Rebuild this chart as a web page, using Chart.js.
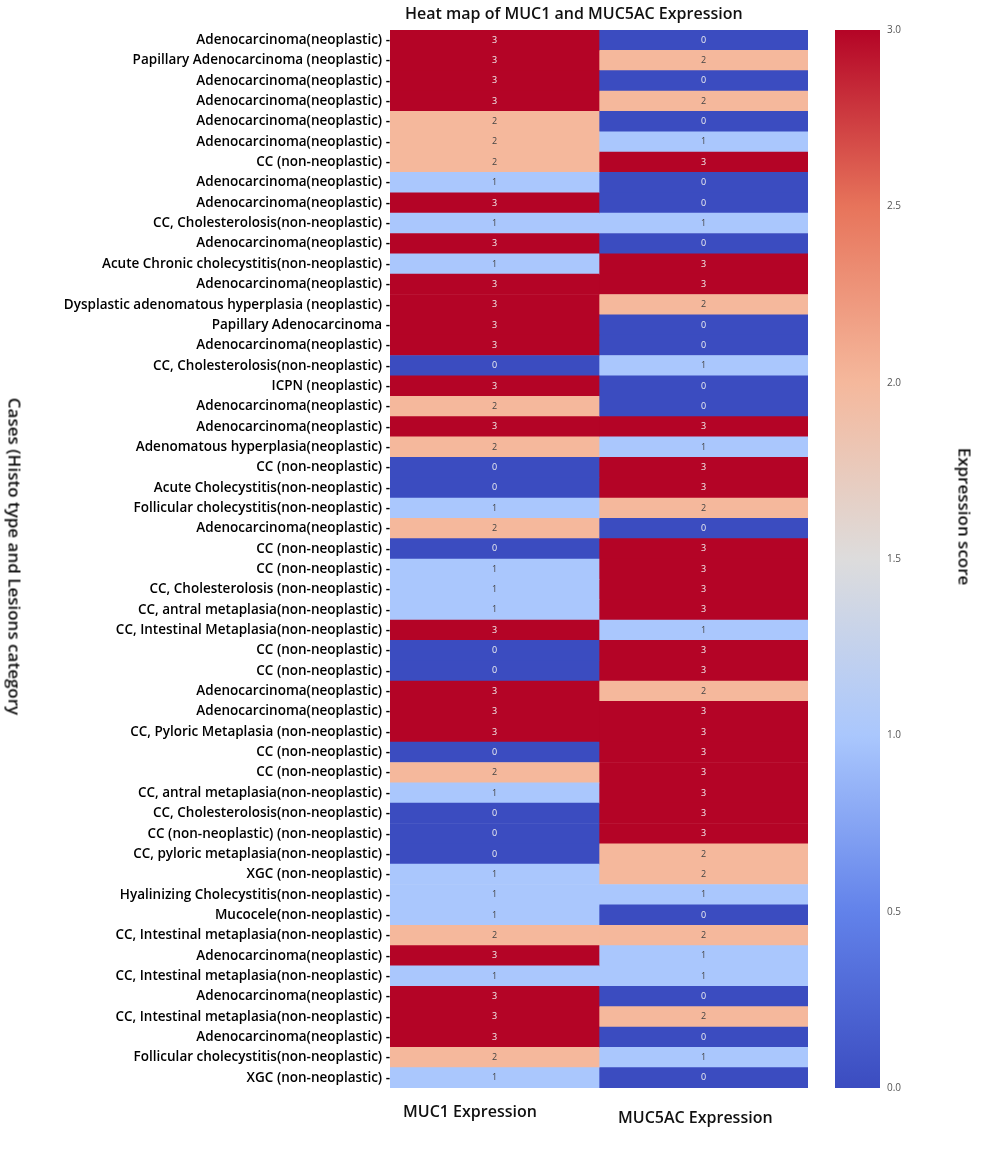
<!DOCTYPE html>
<html>
<head>
<meta charset="utf-8">
<script src="https://cdn.jsdelivr.net/npm/chart.js@4"></script>
<style>
  body { margin: 0; background: #fff; font-family: "Open Sans", sans-serif; }
  #wrap { position: relative; width: 986px; height: 1150px; }
  canvas { position: absolute; top: 0; }
  .txt { position: absolute; color: #111; font-weight: 600; white-space: nowrap; }
</style>
</head>
<body>
<div id="wrap">
  <canvas id="heat" width="986" height="1150" style="left:0"></canvas>
  <canvas id="bar" width="151" height="1150" style="left:835px"></canvas>
  <div class="txt" style="left:405px;top:2px;font-size:16px">Heat map of MUC1 and MUC5AC Expression</div>
  <div class="txt" style="left:403px;top:1100px;font-size:16px">MUC1 Expression</div>
  <div class="txt" style="left:618px;top:1106px;font-size:16px">MUC5AC Expression</div>
  <div class="txt" style="left:-190px;top:545px;font-size:17px;transform:rotate(90deg);width:410px;text-align:center">Cases (Histo type and Lesions category</div>
  <div class="txt" style="left:895px;top:505px;font-size:17px;transform:rotate(90deg);width:140px;text-align:center">Expression score</div>
</div>
<script>
// Row labels, top to bottom
const cases = [
  'Adenocarcinoma(neoplastic)', 'Papillary Adenocarcinoma (neoplastic)', 'Adenocarcinoma(neoplastic)',
  'Adenocarcinoma(neoplastic)', 'Adenocarcinoma(neoplastic)', 'Adenocarcinoma(neoplastic)',
  'CC (non-neoplastic)', 'Adenocarcinoma(neoplastic)', 'Adenocarcinoma(neoplastic)',
  'CC, Cholesterolosis(non-neoplastic)', 'Adenocarcinoma(neoplastic)', 'Acute Chronic cholecystitis(non-neoplastic)',
  'Adenocarcinoma(neoplastic)', 'Dysplastic adenomatous hyperplasia (neoplastic)', 'Papillary Adenocarcinoma',
  'Adenocarcinoma(neoplastic)', 'CC, Cholesterolosis(non-neoplastic)', 'ICPN (neoplastic)',
  'Adenocarcinoma(neoplastic)', 'Adenocarcinoma(neoplastic)', 'Adenomatous hyperplasia(neoplastic)',
  'CC (non-neoplastic)', 'Acute Cholecystitis(non-neoplastic)', 'Follicular cholecystitis(non-neoplastic)',
  'Adenocarcinoma(neoplastic)', 'CC (non-neoplastic)', 'CC (non-neoplastic)',
  'CC, Cholesterolosis (non-neoplastic)', 'CC, antral metaplasia(non-neoplastic)', 'CC, Intestinal Metaplasia(non-neoplastic)',
  'CC (non-neoplastic)', 'CC (non-neoplastic)', 'Adenocarcinoma(neoplastic)',
  'Adenocarcinoma(neoplastic)', 'CC, Pyloric Metaplasia (non-neoplastic)', 'CC (non-neoplastic)',
  'CC (non-neoplastic)', 'CC, antral metaplasia(non-neoplastic)', 'CC, Cholesterolosis(non-neoplastic)',
  'CC (non-neoplastic) (non-neoplastic)', 'CC, pyloric metaplasia(non-neoplastic)', 'XGC (non-neoplastic)',
  'Hyalinizing Cholecystitis(non-neoplastic)', 'Mucocele(non-neoplastic)', 'CC, Intestinal metaplasia(non-neoplastic)',
  'Adenocarcinoma(neoplastic)', 'CC, Intestinal metaplasia(non-neoplastic)', 'Adenocarcinoma(neoplastic)',
  'CC, Intestinal metaplasia(non-neoplastic)', 'Adenocarcinoma(neoplastic)', 'Follicular cholecystitis(non-neoplastic)',
  'XGC (non-neoplastic)'
];
const muc1 = [3,3,3,3,2,2,2,1,3,1,3,1,3,3,3,3,0,3,2,3,2,0,0,1,2,0,1,1,1,3,0,0,3,3,3,0,2,1,0,0,0,1,1,1,2,3,1,3,3,3,2,1];
const muc5ac = [0,2,0,2,0,1,3,0,0,1,0,3,3,2,0,0,1,0,0,3,1,3,3,2,0,3,3,3,3,1,3,3,2,3,3,3,3,3,3,3,2,2,1,0,2,1,1,0,2,0,1,0];
const colorTicks = [0, 0.5, 1, 1.5, 2, 2.5, 3];

// coolwarm-ish colours for scores 0..3
const scoreColors = ['#3b4cc0', '#aac7fd', '#f5b89c', '#b40426'];
const gradStops = [
  [0, '#3b4cc0'], [0.167, '#6282ea'], [0.333, '#aac7fd'], [0.5, '#dddcdc'],
  [0.667, '#f5b89c'], [0.833, '#e7745b'], [1, '#b40426']
];

const idx = cases.map((_, i) => i);

const cellText = {
  id: 'cellText',
  afterDatasetsDraw(chart) {
    const ctx = chart.ctx;
    ctx.save();
    ctx.font = '9px "Open Sans"';
    ctx.textAlign = 'center';
    ctx.textBaseline = 'middle';
    chart.data.datasets.forEach((ds, d) => {
      chart.getDatasetMeta(d).data.forEach((bar, i) => {
        const v = ds.scores[i];
        ctx.fillStyle = (v === 0 || v === 3) ? '#f0f0f0' : '#444';
        const x = (bar.x + bar.base) / 2;
        ctx.fillText(v, x, bar.y);
      });
    });
    ctx.restore();
  }
};

new Chart(document.getElementById('heat'), {
  type: 'bar',
  data: {
    labels: idx,
    datasets: [
      { data: idx.map(() => 1), scores: muc1, backgroundColor: muc1.map(v => scoreColors[v]) },
      { data: idx.map(() => 1), scores: muc5ac, backgroundColor: muc5ac.map(v => scoreColors[v]) }
    ]
  },
  options: {
    indexAxis: 'y',
    responsive: false,
    animation: false,
    layout: { padding: { top: 30, bottom: 62, right: 178, left: 0 } },
    datasets: { bar: { barPercentage: 1, categoryPercentage: 1, borderWidth: 0 } },
    plugins: { legend: { display: false }, tooltip: { enabled: false } },
    scales: {
      x: { stacked: true, min: 0, max: 2, display: false },
      y: {
        stacked: true,
        grid: { display: false, drawTicks: true },
        border: { display: false },
        afterFit: s => { s.width = 390; },
        ticks: {
          autoSkip: false,
          padding: -8,
          color: '#000',
          font: { family: 'Open Sans', size: 13.5, weight: '600' },
          callback: v => cases[v] + ' -'
        }
      }
    }
  },
  plugins: [cellText]
});

// colour bar
const gradientFill = {
  id: 'gradientFill',
  beforeDatasetsDraw(chart) {
    const a = chart.chartArea;
    const g = chart.ctx.createLinearGradient(0, a.bottom, 0, a.top);
    gradStops.forEach(s => g.addColorStop(s[0], s[1]));
    chart.data.datasets[0].backgroundColor = g;
    chart.getDatasetMeta(0).data[0].options.backgroundColor = g;
  }
};

new Chart(document.getElementById('bar'), {
  type: 'bar',
  data: { labels: ['s'], datasets: [{ data: [3], backgroundColor: '#888', borderWidth: 0 }] },
  options: {
    responsive: false,
    animation: false,
    layout: { padding: { top: 30, bottom: 62, right: 66, left: 0 } },
    datasets: { bar: { barPercentage: 1, categoryPercentage: 1 } },
    plugins: { legend: { display: false }, tooltip: { enabled: false } },
    scales: {
      x: { display: false },
      y: {
        position: 'right',
        min: 0, max: 3,
        afterFit: s => { s.width = 40; },
        afterBuildTicks: s => { s.ticks = colorTicks.map(v => ({ value: v })); },
        grid: { display: false, drawTicks: true, tickLength: 4, color: '#666' },
        border: { display: false },
        ticks: {
          color: '#555',
          font: { family: 'Open Sans', size: 10 },
          callback: v => v.toFixed(1)
        }
      }
    }
  },
  plugins: [gradientFill]
});
</script>
</body>
</html>
